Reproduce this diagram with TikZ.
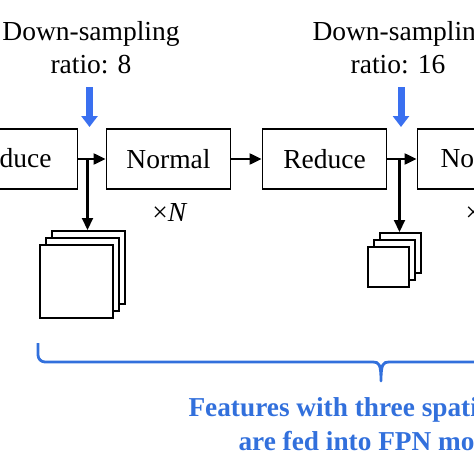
\documentclass[tikz,border=0pt]{standalone}
\usepackage{fontspec}
\setmainfont{Liberation Serif}
\usetikzlibrary{arrows.meta}
\definecolor{arrowblue}{RGB}{58,112,240}
\definecolor{textblue}{RGB}{50,112,220}
\tikzset{
  blockbox/.style={draw, line width=1.8pt, minimum width=124pt, minimum height=60pt, inner sep=0pt},
  conn/.style={line width=2.1pt, -{Triangle[width=11pt,length=12pt]}},
  fmap/.style={draw, line width=1.8pt, fill=white, inner sep=0pt, anchor=north west},
  dsarrow/.style={arrowblue, line width=7pt, -{Triangle[width=16pt,length=11pt]}},
  bluetext/.style={anchor=base west, text=textblue, font=\fontsize{27.3}{32}\selectfont\bfseries}
}
\begin{document}
\begin{tikzpicture}[x=1pt,y=1pt,font=\fontsize{27.5}{32}\selectfont]
\useasboundingbox (0,0) rectangle (474,-474);
\clip (0,0) rectangle (474,-474);
% blocks
\node[blockbox] (red1) at (15.5,-159) {};
\node[blockbox] (norm1) at (168.5,-159) {Normal};
\node[blockbox] (red2) at (324.5,-159) {Reduce};
\node[blockbox] (norm2) at (479.5,-159) {};
\node[anchor=base east] (red1txt) at (55,-167.5) {duce};
\node[anchor=base west] (norm2txt) at (437,-167.5) {Nor};
% feature maps
\node[fmap, minimum width=73pt, minimum height=73pt] (fa3) at (51,-230) {};
\node[fmap, minimum width=73pt, minimum height=73pt] (fa2) at (45,-237) {};
\node[fmap, minimum width=73pt, minimum height=73pt] (fa1) at (39,-244) {};
\node[fmap, minimum width=41pt, minimum height=40pt] (fb3) at (379,-232) {};
\node[fmap, minimum width=41pt, minimum height=40pt] (fb2) at (373,-239) {};
\node[fmap, minimum width=41pt, minimum height=40pt] (fb1) at (367,-246) {};
% connectors
\draw[conn] (red1) -- (norm1);
\draw[conn] (norm1) -- (red2);
\draw[conn] (red2) -- (norm2);
\coordinate (br1) at (87.5,-159);
\coordinate (br2) at (399.5,-159);
\draw[conn] (br1) -- (br1 |- fa3.north);
\draw[conn] (br2) -- (br2 |- fb3.north);
% down-sampling arrows
\coordinate (ds1s) at (89.5,-87);
\coordinate (ds1e) at (89.5,-127);
\coordinate (ds2s) at (401,-87);
\coordinate (ds2e) at (401,-127);
\draw[dsarrow] (ds1s) -- (ds1e);
\draw[dsarrow] (ds2s) -- (ds2e);
% labels
\node[anchor=base] (lab1a) at (91,-40) {Down-sampling};
\node[anchor=base] (lab1b) at (91,-73) {ratio: 8};
\node[anchor=base west] (lab2a) at (309,-40) {Down-samplin};
\node[anchor=base] (lab2b) at (398,-73) {ratio: 16};
\node[anchor=base] (rep1) at (170,-221) {×\textit{N}};
\node[anchor=base west] (rep2) at (462,-221) {×};
% brace
\draw[textblue, line width=2.8pt, line join=round]
  (38,-343) -- (38,-355) to[out=-90,in=180] (45,-362) -- (373,-362)
  .. controls (379,-362) and (381,-364) .. (381,-381)
  .. controls (381,-364) and (383,-362) .. (389,-362) -- (480,-362);
% blue text
\node[bluetext] (ft1) at (185,-416) {Features with three spati};
\node[bluetext] (ft2) at (235,-450) {are fed into FPN mo};
\end{tikzpicture}
\end{document}
